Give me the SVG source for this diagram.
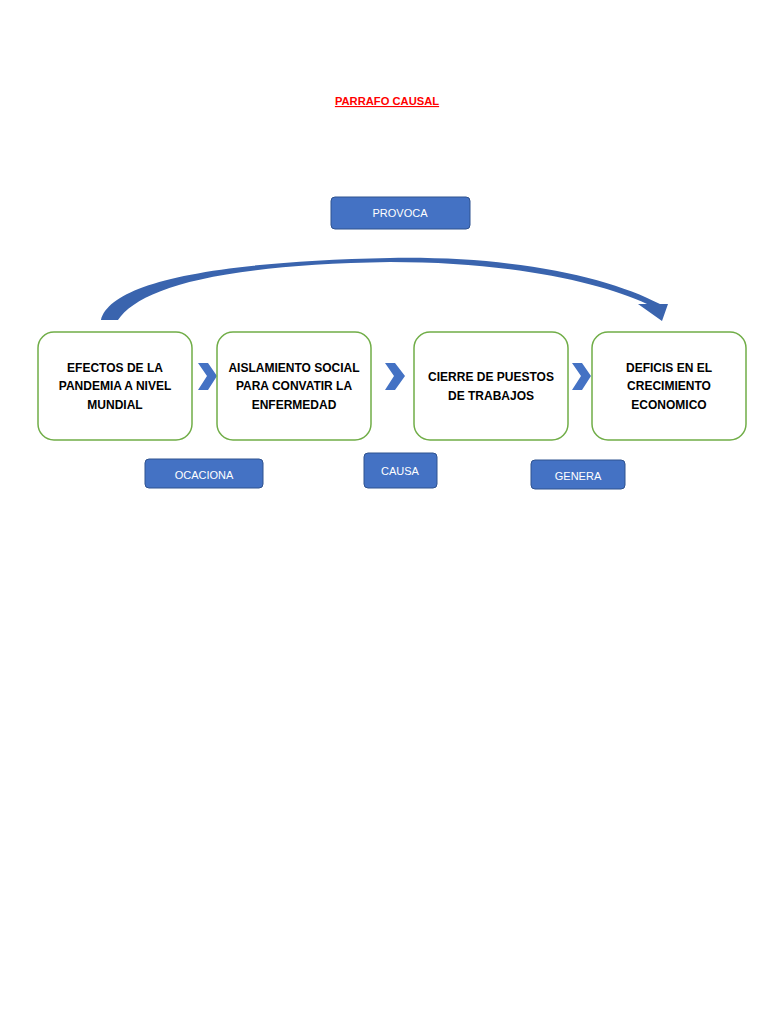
<svg xmlns="http://www.w3.org/2000/svg" width="768" height="1024" viewBox="0 0 768 1024">
<style>
.node{fill:#ffffff;stroke:#70AD47;stroke-width:1.5}
.ntext{font-family:"Liberation Sans",Arial,sans-serif;font-size:12px;font-weight:bold;fill:#000000;text-anchor:middle}
.lbl{fill:#4472C4;stroke:#2F528F;stroke-width:1}
.ltext{font-family:"Liberation Sans",Arial,sans-serif;font-size:11px;fill:#ffffff;text-anchor:middle}
.chev{fill:#4472C4}
.arc{fill:#3A64AE}
</style>
<rect width="768" height="1024" fill="#ffffff"/>
<text x="387" y="105" font-family="'Liberation Sans',Arial,sans-serif" font-size="11.2" font-weight="bold" fill="#FF0000" text-anchor="middle" text-decoration="underline">PARRAFO CAUSAL</text>

<g id="connectors">
<path class="arc" d="M101,320 C110,285 200,262 390,258 C520,256 610,278 660,304 L668,304 L662,321 L638,304 L647,304 C600,282 510,262 390,262 C210,265 138,290 118,320 Z"/>
<polygon class="chev" points="198,363 208,363 217,376 208,390 198,390 207,376"/>
<polygon class="chev" points="385,363 395,363 405,376 395,390 385,390 394,376"/>
<polygon class="chev" points="572,363 582,363 591,376 582,390 572,390 581,376"/>
</g>

<g id="provoca">
<rect class="lbl" x="331" y="197" width="139" height="32" rx="4"/>
<text class="ltext" x="400" y="217">PROVOCA</text>
</g>

<g id="n1">
<rect class="node" x="38" y="332" width="154" height="108" rx="16"/>
<text class="ntext" x="115" y="372">EFECTOS DE LA</text>
<text class="ntext" x="115" y="390">PANDEMIA A NIVEL</text>
<text class="ntext" x="115" y="409">MUNDIAL</text>
</g>
<g id="n2">
<rect class="node" x="217" y="332" width="154" height="108" rx="16"/>
<text class="ntext" x="294" y="372">AISLAMIENTO SOCIAL</text>
<text class="ntext" x="294" y="390">PARA CONVATIR LA</text>
<text class="ntext" x="294" y="409">ENFERMEDAD</text>
</g>
<g id="n3">
<rect class="node" x="414" y="332" width="154" height="108" rx="16"/>
<text class="ntext" x="491" y="381">CIERRE DE PUESTOS</text>
<text class="ntext" x="491" y="400">DE TRABAJOS</text>
</g>
<g id="n4">
<rect class="node" x="592" y="332" width="154" height="108" rx="16"/>
<text class="ntext" x="669" y="372">DEFICIS EN EL</text>
<text class="ntext" x="669" y="390">CRECIMIENTO</text>
<text class="ntext" x="669" y="409">ECONOMICO</text>
</g>

<g id="ocaciona">
<rect class="lbl" x="145" y="459" width="118" height="29" rx="4"/>
<text class="ltext" x="204" y="479">OCACIONA</text>
</g>
<g id="causa">
<rect class="lbl" x="364" y="453" width="73" height="35" rx="4"/>
<text class="ltext" x="400" y="475">CAUSA</text>
</g>
<g id="genera">
<rect class="lbl" x="531" y="460" width="94" height="29" rx="4"/>
<text class="ltext" x="578" y="480">GENERA</text>
</g>
</svg>
